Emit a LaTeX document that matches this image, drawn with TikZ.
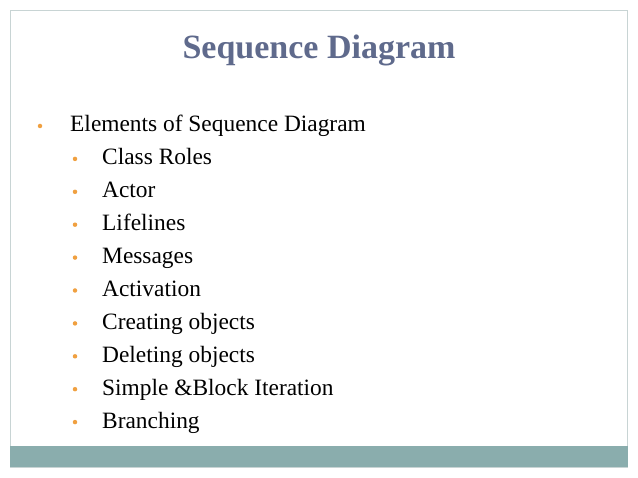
\documentclass[tikz,border=0pt]{standalone}
\usepackage{fontspec}
\setmainfont{Liberation Serif}
\definecolor{frame}{HTML}{C8D4D4}
\definecolor{bar}{HTML}{8AADAD}
\definecolor{ttl}{HTML}{5F6A8C}
\definecolor{dot}{HTML}{F0A040}
\begin{document}
\begin{tikzpicture}[x=1pt,y=-1pt,
  item/.style={anchor=base west,inner sep=0pt,font=\fontsize{23.4}{26}\selectfont},
  bul/.style={circle,fill=dot,inner sep=0pt,minimum size=4.5pt}]
\useasboundingbox (0,0) rectangle (638,478);
\fill[white] (0,0) rectangle (638,478);
\draw[frame,line width=0.8pt] (10.5,10.5) rectangle (627.5,467);
\fill[bar] (10,446) rectangle (628,467.5);
\node[text=ttl,font=\bfseries\fontsize{34}{38}\selectfont,anchor=base,inner sep=0pt] (title) at (319,59) {Sequence Diagram};
\node[bul] (b0) at (40,126) {};
\node[item] (t0) at (70,132) {Elements of Sequence Diagram};
\foreach \t [count=\i] in {Class Roles,Actor,Lifelines,Messages,Activation,Creating objects,Deleting objects,Simple \&Block Iteration,Branching}{
  \node[bul] (b\i) at (75,{126+32.9*\i}) {};
  \node[item] (t\i) at (102,{132+32.9*\i}) {\t};
}
\end{tikzpicture}
\end{document}
